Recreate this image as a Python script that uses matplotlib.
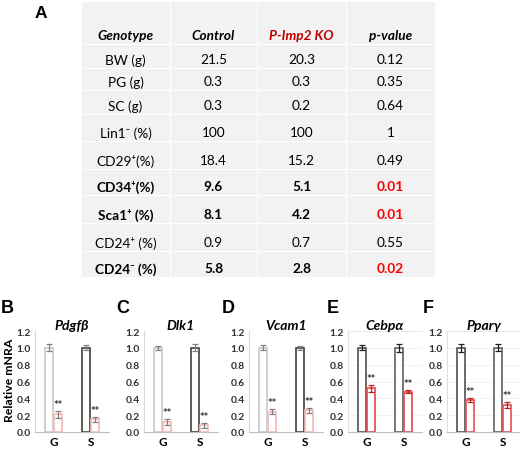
import matplotlib
matplotlib.use('Agg')
import matplotlib.pyplot as plt
from matplotlib.patches import Rectangle
import numpy as np

# ---------------- data ----------------
col_headers = ['Genotype', 'Control', 'P-Imp2 KO', 'p-value']
row_labels = ['BW (g)', 'PG (g)', 'SC (g)', 'Lin1⁻ (%)', 'CD29⁺(%)',
              'CD34⁺(%)', 'Sca1⁺ (%)', 'CD24⁺ (%)', 'CD24⁻ (%)']
control_vals = ['21.5', '0.3', '0.3', '100', '18.4', '9.6', '8.1', '0.9', '5.8']
ko_vals = ['20.3', '0.3', '0.2', '100', '15.2', '5.1', '4.2', '0.7', '2.8']
p_vals = ['0.12', '0.35', '0.64', '1', '0.49', '0.01', '0.01', '0.55', '0.02']
significant = [False, False, False, False, False, True, True, False, True]

panel_letters = ['B', 'C', 'D', 'E', 'F']
genes = ['Pdgfβ', 'Dlk1', 'Vcam1', 'Cebpα', 'Pparγ']
groups = ['G', 'S']
ctrl_means = [[1.0, 1.0], [1.0, 1.0], [1.0, 1.0], [1.0, 1.0], [1.0, 1.0]]
ctrl_err = [[0.04, 0.03], [0.02, 0.04], [0.03, 0.02], [0.03, 0.05], [0.05, 0.04]]
ko_means = [[0.21, 0.15], [0.12, 0.08], [0.24, 0.26], [0.52, 0.48], [0.38, 0.32]]
ko_err = [[0.04, 0.03], [0.04, 0.03], [0.03, 0.03], [0.04, 0.02], [0.02, 0.04]]
y_ticks = [0.0, 0.2, 0.4, 0.6, 0.8, 1.0, 1.2]

# ---------------- layout ----------------
W, H = 520, 456
fig = plt.figure(figsize=(W / 100, H / 100), dpi=100)
TF = ['Lato', 'DejaVu Sans']
LF = ['Liberation Sans', 'DejaVu Sans']

ov = fig.add_axes([0, 0, 1, 1])
ov.set_xlim(0, W)
ov.set_ylim(H, 0)
ov.axis('off')

col_edges = [81, 170, 257, 346, 435]
row_edges = [2, 45, 69, 91, 115, 142, 170, 196, 224, 252, 278]
bg = '#f2f2f2'
for r in range(len(row_edges) - 1):
    for c in range(len(col_edges) - 1):
        x0, x1 = col_edges[c], col_edges[c + 1]
        y0, y1 = row_edges[r], row_edges[r + 1]
        ov.add_patch(Rectangle((x0 + 0.5, y0 + 0.5), x1 - x0 - 1, y1 - y0 - 1,
                               facecolor=bg, edgecolor='none', zorder=1))

col_centers = [(col_edges[i] + col_edges[i + 1]) / 2 for i in range(4)]
fs = 9.8
for c, h in enumerate(col_headers):
    color = '#c00000' if c == 2 else 'black'
    ov.text(col_centers[c], row_edges[1] - 8.5, h, ha='center', va='center',
            fontsize=fs, fontweight='bold', fontstyle='italic', color=color,
            family=TF, zorder=3)

for r in range(len(row_labels)):
    yc = row_edges[r + 2] - 8.5
    bold = 'bold' if significant[r] else 'normal'
    vals = [row_labels[r], control_vals[r], ko_vals[r], p_vals[r]]
    for c, v in enumerate(vals):
        color = '#ff0000' if (c == 3 and significant[r]) else 'black'
        ov.text(col_centers[c], yc, v, ha='center', va='center', fontsize=fs,
                fontweight=bold, color=color, family=TF, zorder=3)

ov.text(35, 13, 'A', ha='left', va='center', fontsize=12.5, fontweight='bold',
        family=LF)

# ---------------- bar panels ----------------
ax_lefts = [35, 144, 249, 348, 447]
ax_w = 74
y_top, y_bot = 332, 433
letter_x = [1, 116, 222, 327, 423]

styles = [
    dict(ctrl=['#c8c8c8', '#404040'], ko='#f6b8b8', ectrl='#808080', eko='#808080', grid=False),
    dict(ctrl=['#c8c8c8', '#404040'], ko='#f6b8b8', ectrl='#808080', eko='#808080', grid=False),
    dict(ctrl=['#c8c8c8', '#404040'], ko='#f6b8b8', ectrl='#808080', eko='#808080', grid=False),
    dict(ctrl=['#505050', '#606060'], ko='#e04848', ectrl='#202020', eko='#c02020', grid=True),
    dict(ctrl=['#505050', '#606060'], ko='#e05050', ectrl='#202020', eko='#c02020', grid=True),
]

bw = 0.22
off = 0.13
for i in range(5):
    st = styles[i]
    ax = fig.add_axes([ax_lefts[i] / W, 1 - y_bot / H, ax_w / W, (y_bot - y_top) / H])
    x = np.array([0.5, 1.5])
    for j in range(2):
        ax.bar(x[j] - off, ctrl_means[i][j], width=bw, facecolor='white',
               edgecolor=st['ctrl'][j], linewidth=1.2, zorder=2)
        ax.errorbar(x[j] - off, ctrl_means[i][j], yerr=ctrl_err[i][j], fmt='none',
                    ecolor=st['ectrl'], elinewidth=0.9, capsize=2.2, capthick=0.9, zorder=3)
        ax.bar(x[j] + off, ko_means[i][j], width=bw, facecolor='white',
               edgecolor=st['ko'], linewidth=1.2, zorder=2)
        ax.errorbar(x[j] + off, ko_means[i][j], yerr=ko_err[i][j], fmt='none',
                    ecolor=st['eko'], elinewidth=0.9, capsize=2.2, capthick=0.9, zorder=3)
        ax.text(x[j] + off, ko_means[i][j] + ko_err[i][j] + 0.01, '**',
                ha='center', va='bottom', fontsize=8, fontweight='bold',
                color='#303030', family=TF)
    ax.set_xlim(0, 2)
    ax.set_ylim(0, 1.2)
    ax.set_xticks(x)
    ax.set_xticklabels(groups, fontsize=8.5, fontweight='bold', family=TF, color='black')
    ax.set_yticks(y_ticks)
    ax.set_yticklabels(['%.1f' % t for t in y_ticks], fontsize=7.4,
                       fontweight='bold', family=TF, color='#303030')
    ax.tick_params(axis='both', length=0, pad=3)
    ax.tick_params(axis='y', pad=3)
    for s in ['top', 'right']:
        ax.spines[s].set_visible(False)
    ax.spines['left'].set_color('#d9d9d9')
    ax.spines['bottom'].set_color('#bfbfbf')
    ax.spines['left'].set_linewidth(0.8)
    ax.spines['bottom'].set_linewidth(0.8)
    if st['grid']:
        ax.set_axisbelow(True)
        ax.yaxis.grid(True, color='#efefef', linewidth=0.6)
        ax.spines['top'].set_visible(True)
        ax.spines['top'].set_color('#e8e8e8')
        ax.spines['top'].set_linewidth(0.6)
        ax.spines['left'].set_color('#e0e0e0')
    ax.set_title(genes[i], fontsize=10, fontweight='bold', fontstyle='italic',
                 family=TF, pad=1)
    ax.patch.set_alpha(0)
    ov.text(letter_x[i], 309, panel_letters[i], ha='left', va='center',
            fontsize=13, fontweight='bold', family=LF)

ov.text(10, (y_top + y_bot) / 2 - 2, 'Relative mNRA', rotation=90, ha='center',
        va='center', fontsize=8.8, fontweight='bold', family=TF)

fig.savefig('out.png', dpi=100)
